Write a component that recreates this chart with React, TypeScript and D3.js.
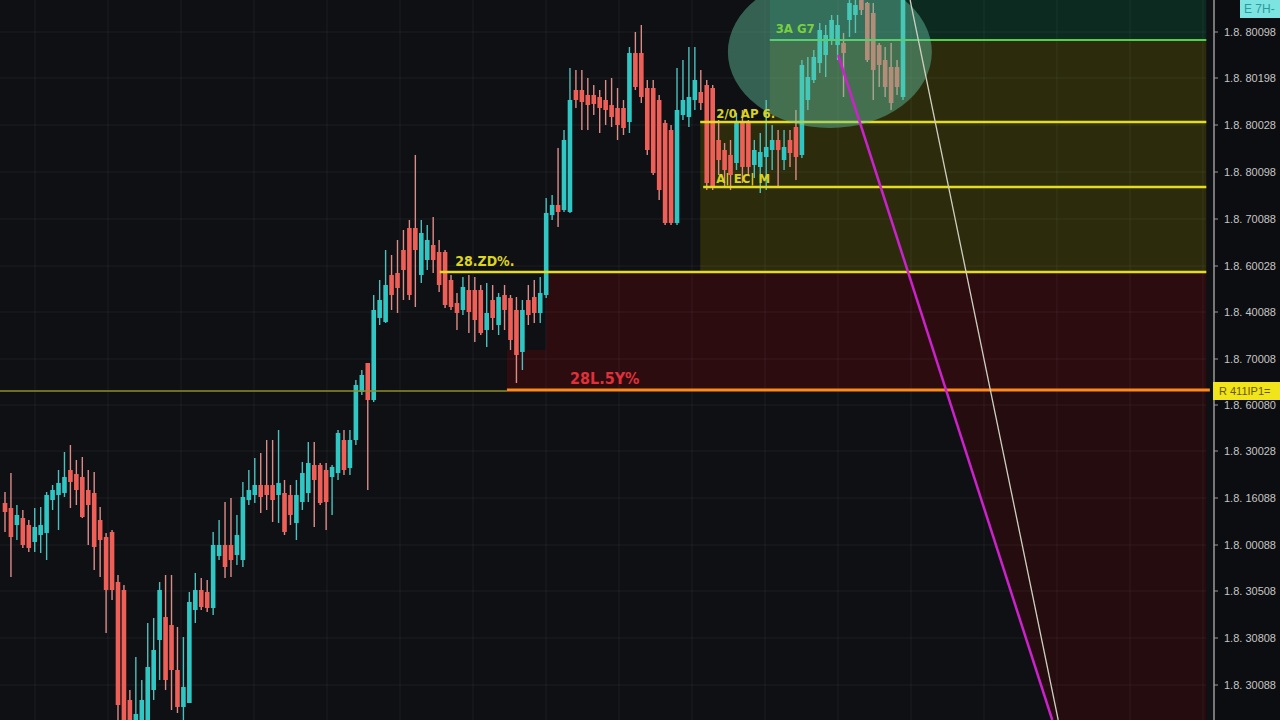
import React from 'react';
import * as d3 from 'd3';

// OHLC values (price units), one per bar
const opens = [497,492,475,482,475,458,465,467,500,505,507,530,526,523,510,507,480,463,468,418,
410,300,278,280,280,310,360,383,375,330,293,297,390,410,408,392,444,455,455,445,
440,500,505,515,515,515,505,507,505,477,498,507,535,535,530,523,527,560,532,560,
608,637,600,682,678,725,727,750,772,772,725,740,755,748,748,720,697,690,710,710,
710,670,700,675,705,702,690,648,700,
703,687,705,785,795,790,788,910,910,
905,905,903,900,895,892,892,878,947,947,
912,912,900,877,870,777,885,883,900,908,915,
912,860,850,845,837,877,877,835,833,843,850,860,840,860,873,845,900,920,937,945,
960,955,957,980,985,1000,997,987,955,940,933,933,903];
const highs = [508,527,495,490,480,492,493,508,515,530,548,555,540,543,530,528,493,467,470,425,
415,310,343,320,377,382,418,425,425,373,363,408,427,422,420,468,480,498,502,485,
518,530,542,547,560,560,570,520,515,520,538,558,558,537,537,535,570,570,570,620,
630,637,705,720,750,745,760,770,780,845,780,775,783,760,750,725,707,723,725,723,
715,717,715,707,715,705,703,700,715,
720,723,802,805,852,870,932,930,930,
922,915,910,920,922,912,900,953,968,975,
920,920,905,880,875,932,940,953,953,930,920,
915,880,857,860,887,890,880,860,867,900,875,870,870,870,890,940,943,950,977,975,
985,985,967,1000,1000,1005,998,997,957,953,957,940,1010];
const lows = [468,423,460,452,448,448,447,440,490,470,503,492,495,482,455,430,423,367,400,275,
270,265,275,275,275,300,320,310,290,287,280,297,377,390,388,385,440,422,423,435,
433,495,497,487,490,478,477,465,475,460,490,498,473,495,470,485,520,525,525,555,
605,510,598,675,677,690,687,700,700,693,717,730,727,708,692,690,670,685,667,658,
665,653,670,665,670,650,617,630,675,
677,677,702,780,773,788,787,892,870,
870,885,867,875,873,860,865,867,910,897,
845,825,800,775,775,775,880,873,890,890,810,
810,825,813,810,830,817,825,822,807,810,830,813,830,833,820,842,890,917,927,923,
955,940,903,963,967,985,938,900,913,903,890,905,900];
const closes = [488,463,485,455,452,473,475,505,510,517,523,518,510,483,495,453,460,410,410,295,
280,275,286,300,333,350,410,320,330,293,313,398,410,393,392,455,455,433,440,465,
503,510,515,503,505,500,517,468,485,505,527,537,520,497,498,533,567,530,560,615,
625,600,690,700,715,705,712,730,705,750,767,760,740,715,695,693,687,713,688,680,
667,687,682,703,690,660,645,690,685,
687,707,787,795,788,860,900,900,898,
895,896,892,890,883,875,872,947,913,903,
850,827,810,777,777,890,900,903,920,897,817,
813,840,830,825,877,833,833,850,848,853,860,850,853,847,843,935,923,943,970,965,
980,975,947,997,995,990,940,930,935,913,897,913,1000];

// right axis
const tickPrices = [968,922,875,828,781,734,688,641,595,549,502,455,409,362,315];
const tickLabels = ['1.8. 80098','1.8. 80198','1.8. 80028','1.8. 80098','1.8. 70088','1.8. 60028',
  '1.8. 40088','1.8. 70008','1.8. 60080','1.8. 30028','1.8. 16088','1.8. 00088','1.8. 30508','1.8. 30808','1.8. 30088'];
const gridTimes = [5.04,17.32,29.59,41.87,54.14,66.42,78.69,90.97,103.24,115.52,127.79,140.07,152.34,164.62,176.89,189.17,201.44];

// annotations (bar index, price)
const levelLines = [
  { t0: 128.6, t1: 202, p: 960, color: '#4fd24a', w: 2.2 },
  { t0: 116.9, t1: 202, p: 878, color: '#e6dc1e', w: 2.6 },
  { t0: 117.4, t1: 202, p: 813, color: '#e6dc1e', w: 2.6 },
  { t0: 73.1, t1: 202, p: 728, color: '#e6dc1e', w: 2.6 },
  { t0: 84.4, t1: 202.6, p: 610, color: '#ff8a1c', w: 3 },
  { t0: -2, t1: 84.4, p: 609, color: '#8f8f2a', w: 1.3 },
];
const zones = [
  { t0: 128.6, t1: 202, p0: 1010, p1: 960, fill: '#0c2a20' },
  { t0: 128.6, t1: 202, p0: 960, p1: 878, fill: '#2c2c0d' },
  { t0: 116.9, t1: 202, p0: 878, p1: 728, fill: '#2c2c0d' },
  { t0: 91, t1: 202, p0: 728, p1: 610, fill: '#2d0c10' },
  { t0: 84.4, t1: 91, p0: 650, p1: 610, fill: '#2d0c10' },
];
const magenta = { t0: 140.1, p0: 945, t1: 176.1, p1: 280 };
const whiteLine = { t0: 152.2, p0: 1000, t1: 177.1, p1: 280 };
const circle = { t: 138.7, p: 948, rt: 17.15, rp: 76 };
const labels = [
  { t: 129.6, p: 967, text: '3A G7', color: '#78d040', size: 13 },
  { t: 119.6, p: 882, text: '2/0 AP 6.', color: '#d8d41e', size: 13 },
  { t: 119.6, p: 817, text: 'A| EC| M', color: '#d8d41e', size: 13 },
  { t: 75.7, p: 734, text: '28.ZD%.', color: '#dcd41e', size: 14 },
  { t: 95, p: 616, text: '28L.5Y%', color: '#e0303a', size: 16 },
];

const UP = '#2fc6c3';
const DOWN = '#ee5f58';

export default function App() {
  const x = d3.scaleLinear().domain([0, 151]).range([5, 903]);
  const y = d3.scaleLinear().domain([280, 1000]).range([720, 0]);
  const axisX = 1214;
  const bw = 4.6;

  const magAt = (p: number) => magenta.t0 + (magenta.t1 - magenta.t0) * (magenta.p0 - p) / (magenta.p0 - magenta.p1);
  const lowerZone: [number, number][] = [
    [x(magAt(610)), y(610)], [x(202), y(610)], [x(202), y(280)], [x(magenta.t1), y(280)],
  ];

  return (
    <svg width={1280} height={720} style={{ position: 'fixed', left: 0, top: 0, background: '#0e1013' }}>
      <defs>
        <clipPath id="plot"><rect x={0} y={0} width={axisX} height={720} /></clipPath>
      </defs>
      <rect x={0} y={0} width={1280} height={720} fill="#0e1013" />
      <g clipPath="url(#plot)">
        {zones.map((z, i) => (
          <rect key={i} x={x(z.t0)} y={y(z.p0)} width={x(z.t1) - x(z.t0)} height={y(z.p1) - y(z.p0)} fill={z.fill} />
        ))}
        <path d={d3.line()(lowerZone)! + 'Z'} fill="#240c0f" />
        {tickPrices.map((p, i) => (
          <line key={'h' + i} x1={0} x2={x(202)} y1={y(p)} y2={y(p)} stroke="#ffffff" strokeOpacity={0.06} />
        ))}
        {gridTimes.map((t, i) => (
          <line key={'v' + i} x1={x(t)} x2={x(t)} y1={0} y2={720} stroke="#ffffff" strokeOpacity={0.06} />
        ))}
        {opens.map((o, i) => {
          const c = closes[i];
          const up = c >= o;
          const cx = x(i);
          const top = y(Math.max(o, c));
          const bot = y(Math.min(o, c));
          return (
            <g key={'c' + i}>
              <line x1={cx} x2={cx} y1={y(highs[i])} y2={y(lows[i])} stroke={up ? '#4cc0be' : '#dc8c88'} strokeWidth={1.4} />
              <rect x={cx - bw / 2} y={top} width={bw} height={Math.max(1.5, bot - top)} fill={up ? UP : DOWN} />
            </g>
          );
        })}
        {levelLines.map((l, i) => (
          <line key={'l' + i} x1={x(l.t0)} x2={x(l.t1)} y1={y(l.p)} y2={y(l.p)} stroke={l.color} strokeWidth={l.w} />
        ))}
        <ellipse cx={x(circle.t)} cy={y(circle.p)} rx={x(circle.rt) - x(0)} ry={y(1000 - circle.rp) - y(1000)}
          fill="#66c8a4" fillOpacity={0.44} />
        <line x1={x(whiteLine.t0)} y1={y(whiteLine.p0)} x2={x(whiteLine.t1)} y2={y(whiteLine.p1)} stroke="#cfcfc0" strokeWidth={1.3} />
        <line x1={x(magenta.t0)} y1={y(magenta.p0)} x2={x(magenta.t1)} y2={y(magenta.p1)} stroke="#cc22cc" strokeWidth={2.5} />
        {labels.map((l, i) => (
          <text key={'t' + i} x={x(l.t)} y={y(l.p)} fill={l.color} fontSize={l.size} fontWeight="bold"
            fontFamily="'DejaVu Sans Condensed', 'DejaVu Sans', sans-serif">{l.text}</text>
        ))}
      </g>
      <rect x={axisX} y={0} width={1280 - axisX} height={720} fill="#0c0d10" />
      <line x1={axisX} x2={axisX} y1={0} y2={720} stroke="#9a9a9a" strokeWidth={1.5} />
      {tickPrices.map((p, i) => (
        <g key={'tk' + i}>
          <line x1={axisX} x2={axisX + 4} y1={y(p)} y2={y(p)} stroke="#9a9a9a" strokeWidth={1} />
          <text x={1224} y={y(p) + 4} fill="#c6c6c6" fontSize={11} fontFamily="'Liberation Sans', Arial, sans-serif">{tickLabels[i]}</text>
        </g>
      ))}
      <rect x={1240} y={0} width={40} height={18} fill="#7ee4e2" />
      <text x={1244} y={13} fill="#2a9a98" fontSize={12} fontFamily="'Liberation Sans', Arial, sans-serif">E 7H-</text>
      <rect x={1213} y={382} width={67} height={18} fill="#f2e41a" />
      <text x={1219} y={395} fill="#6a5800" fontSize={11} fontFamily="'Liberation Sans', Arial, sans-serif">R 411IP1=</text>
    </svg>
  );
}
